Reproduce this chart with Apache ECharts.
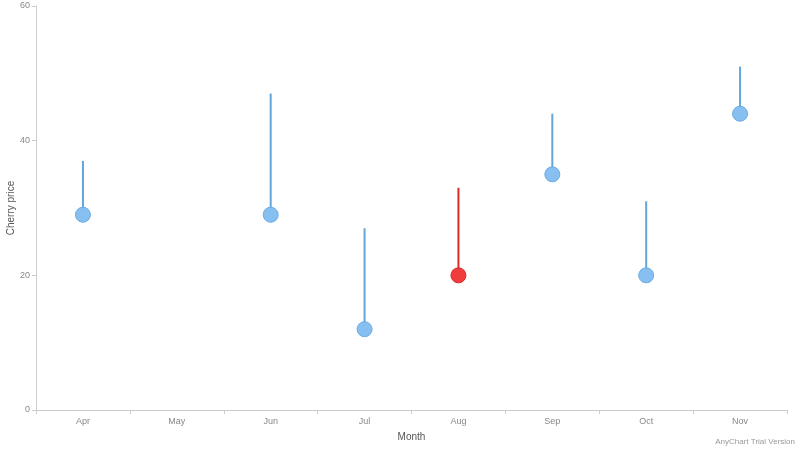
<!DOCTYPE html>
<html><head><meta charset="utf-8">
<script src="https://cdn.jsdelivr.net/npm/echarts@6/dist/echarts.min.js"></script>
<style>html,body{margin:0;padding:0;background:#fff}#c{width:800px;height:450px}</style>
</head><body><div id="c"></div>
<script>
var months = ['Apr','May','Jun','Jul','Aug','Sep','Oct','Nov'];
var lowValues = [29, null, 29, 12, 20, 35, 20, 44];
var highValues = [37, null, 47, 27, 33, 44, 31, 51];
var yTicks = [0, 20, 40, 60];
var highlightMonth = 'Aug';

var blueStem = '#64A5DA', blueFill = '#86BFF0', blueBorder = '#6AAAE2';
var redStem = '#E0282C', redFill = '#F03C3C', redBorder = '#D42A2A';

var stemData = [], markerData = [];
months.forEach(function(m, i){
  if (lowValues[i] == null) return;
  var hl = m === highlightMonth;
  stemData.push({value:[i, lowValues[i], highValues[i]], itemStyle:{color: hl ? redStem : blueStem}});
  markerData.push({value:[i, lowValues[i]], itemStyle:{color: hl ? redFill : blueFill, borderColor: hl ? redBorder : blueBorder, borderWidth:1, opacity:1}});
});

var chart = echarts.init(document.getElementById('c'));
chart.setOption({
  animation:false,
  grid:{left:36, right:13, top:6, bottom:40, containLabel:false, outerBoundsMode:'none'},
  xAxis:{type:'category', data:months, boundaryGap:true,
    axisLine:{lineStyle:{color:'#CCCCCC'}},
    axisTick:{show:true, alignWithLabel:false, length:4, lineStyle:{color:'#CCCCCC'}},
    axisLabel:{color:'#888888', fontSize:9, fontFamily:'Liberation Sans, Arial', margin:7},
    name:'Month', nameLocation:'middle', nameGap:22, nameMoveOverlap:false,
    nameTextStyle:{color:'#555', fontSize:10, fontFamily:'Liberation Sans, Arial'}},
  yAxis:{type:'value', min:yTicks[0], max:yTicks[yTicks.length-1], interval:20,
    splitLine:{show:false},
    axisLine:{show:true, lineStyle:{color:'#CCCCCC'}},
    axisTick:{show:true, length:4, lineStyle:{color:'#CCCCCC'}},
    axisLabel:{color:'#888888', fontSize:9, fontFamily:'Liberation Sans, Arial', margin:6},
    name:'Cherry price', nameLocation:'middle', nameGap:20, nameRotate:90, nameMoveOverlap:false,
    nameTextStyle:{color:'#555', fontSize:10, fontFamily:'Liberation Sans, Arial'}},
  series:[
    {type:'custom', data:stemData, z:2,
      renderItem:function(params, api){
        var p1 = api.coord([api.value(0), api.value(1)]);
        var p2 = api.coord([api.value(0), api.value(2)]);
        return {type:'line', shape:{x1:p1[0], y1:p1[1], x2:p2[0], y2:p2[1]},
          style:{stroke:api.visual('color'), lineWidth:2}};
      }},
    {type:'scatter', data:markerData, symbol:'circle', symbolSize:15, z:3, itemStyle:{opacity:1}}
  ],
  graphic:[{type:'text', right:5, bottom:4,
    style:{text:'AnyChart Trial Version', fill:'#999', fontSize:8, fontFamily:'Liberation Sans, Arial'}}]
});
</script></body></html>
